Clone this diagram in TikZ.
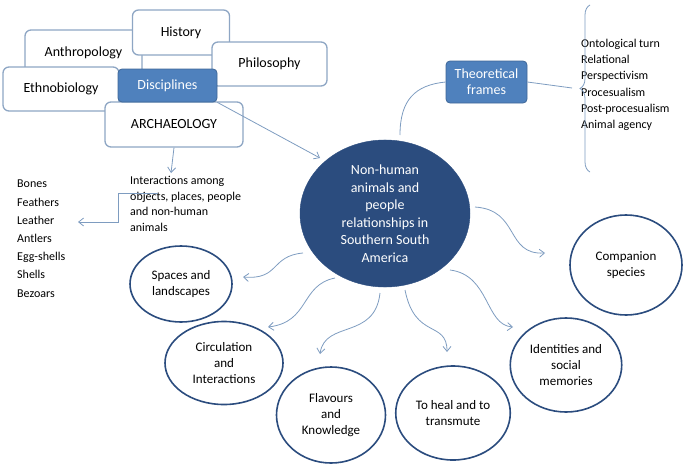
\documentclass[tikz,border=0pt]{standalone}
\usepackage{fontspec}
\setmainfont{Carlito}
\usetikzlibrary{arrows.meta,decorations.pathreplacing}
\definecolor{bx}{HTML}{8EA6C4}
\definecolor{fillb}{HTML}{4F81BD}
\definecolor{navy}{HTML}{2B4C7E}
\definecolor{ln}{HTML}{7E9CC0}
\begin{document}
\begin{tikzpicture}[x=1pt,y=-1pt,
 disc/.style={draw=bx,line width=1.3pt,rounded corners=6pt,fill=white,font=\fontsize{14}{16}\selectfont},
 filled/.style={draw=fillb!80!black,line width=0.8pt,rounded corners=4pt,fill=fillb,text=white,font=\fontsize{14}{16}\selectfont,align=center},
 topic/.style={draw=navy,line width=1.6pt,ellipse,fill=white,align=center,font=\fontsize{13}{16}\selectfont},
 conn/.style={draw=ln,line width=0.8pt,-{Straight Barb[length=5pt,width=8pt]}},
 plain/.style={draw=ln,line width=0.8pt},
 txt/.style={align=left,font=\fontsize{12}{15.5}\selectfont,inner sep=0pt,anchor=north west}]
\useasboundingbox (0,0) rectangle (685,466);
\usetikzlibrary{shapes.geometric}
% discipline boxes
\node[disc,minimum width=117pt,minimum height=45pt] (anth) at (83.5,52.5) {Anthropology};
\node[disc,minimum width=116pt,minimum height=44pt] (eth) at (61,89) {Ethnobiology};
\node[disc,minimum width=97pt,minimum height=45pt] (hist) at (181,32.5) {History};
\node[disc,minimum width=115pt,minimum height=44pt] (phil) at (269.5,64) {Philosophy};
\node[disc,minimum width=138pt,minimum height=45pt] (arch) at (174,124.5) {ARCHAEOLOGY};
\node[filled,minimum width=99pt,minimum height=33pt] (disc) at (167.5,85.5) {Disciplines};
% central
\node[ellipse,fill=navy,draw=navy,minimum width=170pt,minimum height=147pt,text=white,align=center,font=\fontsize{14}{17.5}\selectfont] (c) at (385,213.5) {Non-human\\animals and\\people\\relationships in\\Southern South\\America};
\node[filled,minimum width=81pt,minimum height=42pt,font=\fontsize{14}{16}\selectfont] (theo) at (486.5,82) {Theoretical\\frames};
% topics
\node[topic,minimum width=102pt,minimum height=76pt] (sp) at (181,284) {Spaces and\\landscapes};
\node[topic,minimum width=118pt,minimum height=83pt] (ci) at (224,363) {Circulation\\and\\Interactions};
\node[topic,minimum width=109pt,minimum height=96pt] (fl) at (331,415) {Flavours\\and\\Knowledge};
\node[topic,minimum width=108pt,minimum height=94pt] (he) at (453,413) {To heal and to\\transmute};
\node[topic,minimum width=108pt,minimum height=94pt] (id) at (566,365) {Identities and\\social\\memories};
\node[topic,minimum width=112pt,minimum height=100pt] (co) at (626,265) {Companion\\species};
% texts
\node[txt] (inter) at (130,176) {Interactions among\\objects, places, people\\and non-human\\animals};
\node[txt,font=\fontsize{12}{18.2}\selectfont] (mat) at (17,180) {Bones\\Feathers\\Leather\\Antlers\\Egg-shells\\Shells\\Bezoars};
\node[txt,font=\fontsize{12}{16.2}\selectfont] (theories) at (581,39) {Ontological turn\\Relational\\Perspectivism\\Procesualism\\Post-procesualism\\Animal agency};
% connectors
\draw[conn] (arch.south) -- (171,173);
\coordinate (m1) at (158,193);
\coordinate (m2) at (78,222);
\draw[conn] (m1) -- (118,193) -- (118,222) -- (m2);
\draw[conn] (disc.south east) -- (320,158);
\coordinate (bt) at (572,88);
\draw[plain] (theo.east) -- (bt);
\draw[plain,decorate,decoration={brace,amplitude=10pt,raise=0pt}] (590,172) -- (590,5);
\draw[plain] (400,135) .. controls (400,100) and (415,85) .. (theo.west);
\draw[conn] (303,253) .. controls (270,256) and (280,280) .. (243,277);
\draw[conn] (335,278) .. controls (300,285) and (310,322) .. (268,327);
\draw[conn] (380,293) .. controls (375,340) and (325,320) .. (320,354);
\draw[conn] (405,290) .. controls (415,340) and (447,320) .. (447,352);
\draw[conn] (450,270) .. controls (490,275) and (485,325) .. (513,327);
\draw[conn] (475,207) .. controls (520,210) and (505,255) .. (545,253);
\end{tikzpicture}
\end{document}
